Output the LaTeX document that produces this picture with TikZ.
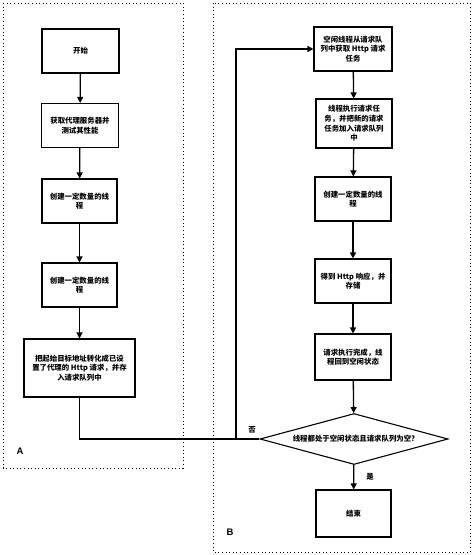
\documentclass[tikz,border=0pt]{standalone}
\usepackage{fontspec}
\setmainfont{Noto Sans CJK SC}
\setsansfont{Liberation Sans}
\usetikzlibrary{arrows.meta,shapes.geometric}
\begin{document}
\begin{tikzpicture}[
  x=1pt, y=-1pt, font=\fontsize{7.4}{9.6}\selectfont\bfseries,
  box/.style={draw, line width=1.1pt, minimum width=77pt, minimum height=44pt, align=center, inner sep=2pt},
  dec/.style={draw, line width=1.1pt, diamond, aspect=3.7, minimum width=188pt, minimum height=51pt, inner sep=0pt},
  flow/.style={line width=1.3pt, -{Triangle[length=6pt,width=6pt]}},
  frame/.style={line width=1pt, dash pattern=on 1pt off 2.6pt},
  tag/.style={font=\sffamily\bfseries\fontsize{9.5}{9.5}\selectfont}
]
\useasboundingbox (0,0) rectangle (474,555);
% ---------------- A: preparing the queue ----------------------------------
\draw[frame] (3,3) rectangle (183,468);
\node[box] (a1) at (80.5,51) {开始};
\node[box] (a2) at (80,125.5) {获取代理服务器并\\测试其性能};
\node[box, minimum width=75pt] (a3) at (79.5,201) {创建一定数量的线\\程};
\node[box, minimum width=75pt] (a4) at (79.5,285) {创建一定数量的线\\程};
\node[box, minimum width=111pt, minimum height=58pt] (a5) at (79.5,368)
  {把起始目标地址转化成已设\\置了代理的 Http 请求，并存\\入请求队列中};
\foreach \u/\v in {a1/a2,a2/a3,a3/a4,a4/a5}
  \draw[flow] (\u) -- (\v);
\node[tag] (la) at (20,451) {A};
% ---------------- B: working the queue ------------------------------------
\draw[frame] (213,3) rectangle (470,552);
\node[box, minimum width=78pt] (b1) at (353,49) {空闲线程从请求队\\列中获取 Http 请求\\任务};
\node[box, minimum width=76pt, minimum height=49pt] (b2) at (354,123.5)
  {线程执行请求任\\务，并把新的请求\\任务加入请求队列\\中};
\node[box, minimum width=76pt] (b3) at (353,199) {创建一定数量的线\\程};
\node[box, minimum width=76pt] (b4) at (353,281) {得到 Http 响应，并\\存储};
\node[box, minimum width=76pt, minimum height=46pt] (b5) at (353,357) {请求执行完成，线\\程回到空闲状态};
\node[dec] (q) at (354,439) {线程都处于空闲状态且请求队列为空?};
\node[box, minimum width=75pt, minimum height=47pt] (b6) at (353.5,513.5) {结束};
\foreach \u/\v in {b1/b2,b2/b3,b3/b4,b4/b5,b5/q,q/b6}
  \draw[flow] (\u) -- (\v);
\coordinate (loop) at (236,439);
\draw[line width=1.3pt] (a5.south) |- (q.west);
\draw[flow] (loop) |- (b1.west);
\node (no) at (252,430) {否};
\node (yes) at (370,477) {是};
\node[tag] (lb) at (230,532) {B};
\end{tikzpicture}
\end{document}
